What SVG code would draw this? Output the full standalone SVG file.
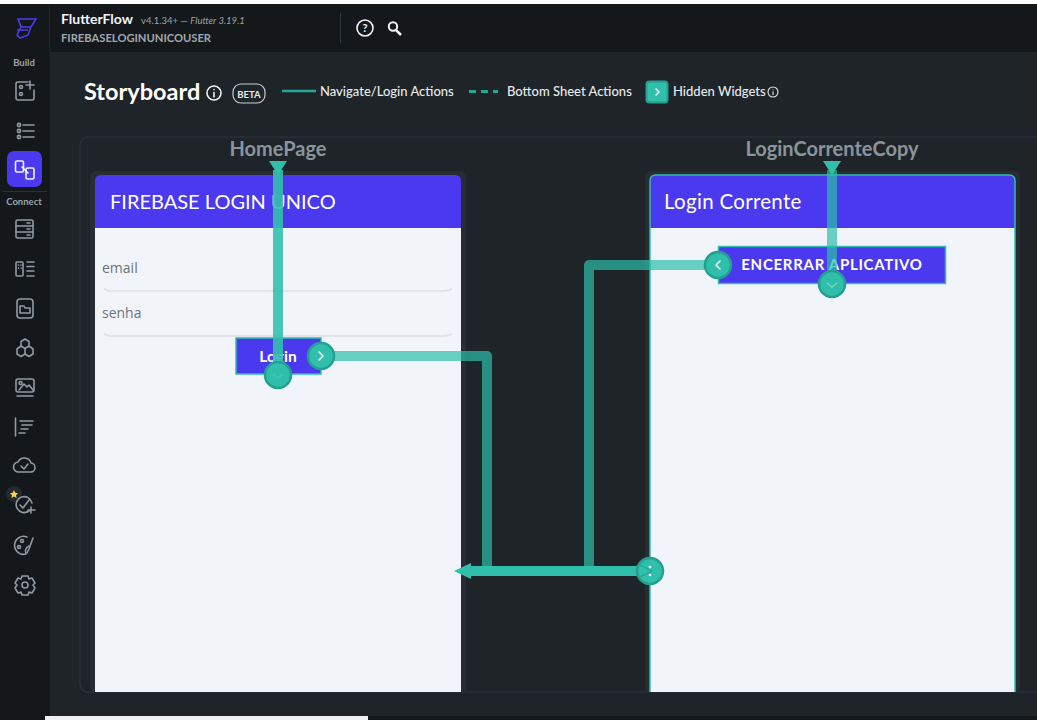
<svg xmlns="http://www.w3.org/2000/svg" width="1037" height="720" viewBox="0 0 1037 720">
<style>
text{font-family:"Lato","Open Sans","Liberation Sans",sans-serif}
.ic{fill:none;stroke:#8f9aa3;stroke-width:1.6;stroke-linecap:round;stroke-linejoin:round}
.wh{fill:none;stroke:#f1f4f8;stroke-width:1.6;stroke-linecap:round;stroke-linejoin:round}
.leg{fill:#e8ebee;font-size:13px;font-weight:500}
.pg{fill:#8a949c;font-size:20px;font-weight:700;text-anchor:middle}
.scr{fill:#f1f4f8}
.hd{fill:#4b39ef}
.in{fill:#6c757d;font-size:14px;font-family:"Open Sans",sans-serif}
.ul{fill:none;stroke:#e0e3e7;stroke-width:2}
.lk{fill:none;stroke:#2bbfa9;stroke-opacity:.7;stroke-width:10;stroke-linejoin:round}
.dot{fill:#2fbfaa;stroke:#23a08e;stroke-width:2.5}
</style>
<rect width="1037" height="720" fill="#1f2428"/>
<rect width="1037" height="4" fill="#fff"/>
<g id="header">
<rect y="4" width="1037" height="48" fill="#14181b"/>
<path d="M18 19H36L31 27H21ZM18 19L21 27L17 35L20 38L28 35L31 27M17 30H28" fill="none" stroke="#4b39ef" stroke-width="1.6"/>
<text x="61" y="24" fill="#f1f4f8" font-size="14" font-weight="700">FlutterFlow</text>
<text x="141" y="24" fill="#9aa3aa" font-size="9.500">v4.1.34+ — <tspan font-style="italic">Flutter 3.19.1</tspan></text>
<text x="61" y="42" fill="#a0a8ae" font-size="11.200" font-weight="700">FIREBASELOGINUNICOUSER</text>
<rect x="340" y="13" width="1" height="30" fill="#2f363c"/>
<circle cx="365" cy="28" r="8" class="wh"/>
<text x="365" y="32" fill="#f1f4f8" font-size="11" font-weight="700" text-anchor="middle">?</text>
<circle cx="393" cy="26.500" r="4.200" fill="none" stroke="#f1f4f8" stroke-width="2"/>
<path d="M396 30L401 35" fill="none" stroke="#f1f4f8" stroke-width="2.500"/>
</g>
<g id="sidebar">
<rect y="52" width="50" height="668" fill="#14181b"/>
<rect x="49" y="4" width="1" height="48" fill="#1f2428"/>
<text x="24" y="66" fill="#9aa3aa" font-size="9.500" font-weight="700" text-anchor="middle">Build</text>
<path class="ic" d="M28 82H18Q16 82 16 84V98Q16 100 18 100H32Q34 100 34 98V90M30 81V89M26 85H34"/>
<circle class="ic" cx="21" cy="87" r="1.500"/><circle class="ic" cx="21" cy="94" r="1.500"/>
<path class="ic" d="M23 125H34M23 131H34M23 137H34"/><circle class="ic" cx="19" cy="125" r="1.600"/><circle class="ic" cx="19" cy="131" r="1.600"/><circle class="ic" cx="19" cy="137" r="1.600"/>
<rect x="7" y="151" width="35" height="36" rx="7" fill="#4b39ef"/>
<rect x="15.500" y="161" width="8" height="11" rx="1.500" class="wh"/><rect x="26" y="168" width="8" height="11" rx="1.500" class="wh"/><path class="wh" d="M22 167L28 173"/>
<rect x="2" y="191" width="45" height="1" fill="#2a3036"/>
<text x="24" y="205" fill="#9aa3aa" font-size="9.500" font-weight="700" text-anchor="middle">Connect</text>
<rect class="ic" x="16" y="220" width="17" height="18" rx="1.500"/><path class="ic" d="M16 226H33M16 232H33M27 223H30M27 229H30M27 235H30"/>
<rect class="ic" x="16" y="262" width="7" height="14" rx="1"/><path class="ic" d="M27 262H34M27 266.500H34M27 271H34M27 276H34M18.500 265V265.100M21 265V265.100M18.500 268V268.100M21 268V268.100"/>
<rect class="ic" x="17" y="299" width="16" height="19" rx="3"/><path class="ic" d="M20 306H24L25 308H30V313H20Z"/>
<path class="ic" d="M25 339L29 341.500V346L25 348.500L21 346V341.500ZM21 346L17 349V354L21 356.500L25 354L29 356.500L33 354V349L29 346M25 348.500V354"/>
<rect class="ic" x="16" y="379" width="18" height="13" rx="2"/><path class="ic" d="M19 390L24 384L27 387L29 385L33 390M17 396H33"/><circle class="ic" cx="20.500" cy="383" r="1.500"/>
<path class="ic" d="M15.500 418V436M20 421H33M22 425H32M21 429H28M19 433H25"/>
<path class="ic" d="M19 472H30A4.500 4.500 0 0 0 31 463A7 7 0 0 0 18 462A5 5 0 0 0 19 472ZM21 466L24 469L28 464"/>
<circle fill="#242b30" cx="14" cy="494" r="8"/>
<path d="M14 490L15.300 492.800L18 493.200L16 495.200L16.600 498L14 496.600L11.400 498L12 495.200L10 493.200L12.700 492.800Z" fill="#fbd24c"/>
<path class="ic" d="M32 503A8 8 0 1 0 29 511M20 505L23 508L29 500M31 507V513M28 510H35"/>
<path class="ic" d="M27 537A9 9 0 1 0 26 554C24 550 27 547 29 546"/><circle class="ic" cx="22" cy="541" r="1.500"/><circle class="ic" cx="19" cy="547" r="1.500"/><path class="ic" d="M33 538L29 549L27 553"/>
<circle class="ic" cx="25" cy="585" r="3"/><path class="ic" d="M22 576H28L29 579L32 578L35 583L33 585L35 588L32 593L29 592L28 595H22L21 592L18 593L15 588L17 585L15 583L18 578L21 579Z"/>
</g>
<g id="toolbar">
<text x="84" y="100" fill="#fff" font-size="23.500" font-weight="700">Storyboard</text>
<circle cx="214" cy="93" r="7" class="wh"/><path class="wh" d="M214 92.500V97M214 89.500V89.600"/>
<rect x="233" y="84" width="32" height="19" rx="8" fill="none" stroke="#c8ccd0" stroke-width="1.200"/>
<text x="249" y="98" fill="#e8ebee" font-size="9.500" font-weight="700" text-anchor="middle">BETA</text>
<path d="M282 91H316" stroke="#23a797" stroke-width="2.500"/>
<text x="320" y="96" class="leg">Navigate/Login Actions</text>
<path d="M469 91.500H498" stroke="#23a797" stroke-width="3" stroke-dasharray="7 5"/>
<text x="507" y="96" class="leg">Bottom Sheet Actions</text>
<rect x="646.500" y="81.500" width="21" height="21" rx="3" fill="#2fbfaa" stroke="#23a08e" stroke-width="2"/>
<path class="wh" d="M656 89L659 92L656 95"/>
<text x="673" y="96" class="leg">Hidden Widgets</text>
<circle cx="773" cy="92" r="5" fill="none" stroke="#e8ebee" stroke-width="1.100"/><path d="M773 91.500V95M773 89.500V90.200" stroke="#e8ebee" stroke-width="1.100"/>
</g>
<rect x="80" y="137" width="1000" height="555" rx="8" fill="none" stroke="#2a3036" stroke-width="1.500"/>
<g id="homepage">
<rect x="90" y="171" width="376" height="521" rx="6" fill="#272d33"/>
<text x="278" y="156" class="pg">HomePage</text>
<path class="scr" d="M95 228H461V692H95Z"/>
<path class="hd" d="M95 228V181Q95 175 101 175H455Q461 175 461 181V228Z"/>
<text x="110" y="209" fill="#fff" font-size="20">FIREBASE LOGIN UNICO</text>
<text x="102" y="273" class="in">email</text>
<path class="ul" d="M104 289Q108 291 112 291H444Q448 291 452 289"/>
<text x="102" y="318" class="in">senha</text>
<path class="ul" d="M104 334Q108 336 112 336H444Q448 336 452 334"/>
<rect x="236" y="338" width="85" height="36" fill="#4b39ef" stroke="#2fbfaa" stroke-width="1.500"/>
<text x="278" y="362" fill="#fff" font-size="15.500" font-weight="700" text-anchor="middle">Login</text>
</g>
<g id="logincorrentecopy">
<rect x="645" y="171" width="375" height="521" rx="6" fill="#272d33"/>
<text x="832" y="156" class="pg">LoginCorrenteCopy</text>
<path class="scr" d="M650 228H1015V692H650Z"/>
<path class="hd" d="M650 228V181Q650 175 656 175H1009Q1015 175 1015 181V228Z"/>
<path d="M650 692V181Q650 175 656 175H1009Q1015 175 1015 181V692" fill="none" stroke="#2fbfaa" stroke-width="1.500"/>
<text x="664" y="209" fill="#fff" font-size="20.500" letter-spacing=".3">Login Corrente</text>
<rect x="718.500" y="246.500" width="227" height="37" fill="#4b39ef" stroke="#2fbfaa" stroke-width="1.500"/>
<text x="832" y="270" fill="#fff" font-size="15" font-weight="700" letter-spacing=".7" text-anchor="middle">ENCERRAR APLICATIVO</text>
</g>
<g id="connectors">
<path class="lk" d="M321 356H487V571"/>
<path class="lk" d="M718 265H589V571"/>
<path d="M640 571H468" fill="none" stroke="#2fbfaa" stroke-width="10"/>
<path d="M454 571L471 563V579Z" fill="#2fbfaa"/>
<path d="M278 170V375" fill="none" stroke="#34c0ae" stroke-opacity=".9" stroke-width="10"/>
<path d="M269 161H287L278 175Z" fill="#2fbfaa"/>
<path d="M832 170V284" fill="none" stroke="#2bbfa9" stroke-opacity=".7" stroke-width="10"/>
<path d="M823 161H841L832 175Z" fill="#2fbfaa"/>
<circle class="dot" cx="278" cy="375" r="13"/>
<path d="M273 374L278 378L283 374" fill="none" stroke="#3fc9b7" stroke-width="1.500"/>
<circle class="dot" cx="321" cy="356" r="13"/><path class="wh" d="M319 352L323 356L319 360"/>
<circle class="dot" cx="718" cy="265" r="13"/><path class="wh" d="M720 261L716 265L720 269"/>
<circle class="dot" cx="832" cy="284" r="13"/>
<path d="M827 283L832 287L837 283" fill="none" stroke="#6fd8c9" stroke-width="1.500"/>
<circle class="dot" cx="650" cy="571" r="13"/>
<path d="M640 565L652 571L640 577" fill="#2fbfaa" stroke="#23a08e" stroke-width="1"/>
<circle cx="650" cy="567" r="1.300" fill="#fff"/><circle cx="650" cy="575" r="1.300" fill="#fff"/>
</g>
<rect x="45" y="716" width="323" height="4" fill="#eef0f2"/>
<rect x="368" y="716" width="669" height="4" fill="#14181b"/>
</svg>
